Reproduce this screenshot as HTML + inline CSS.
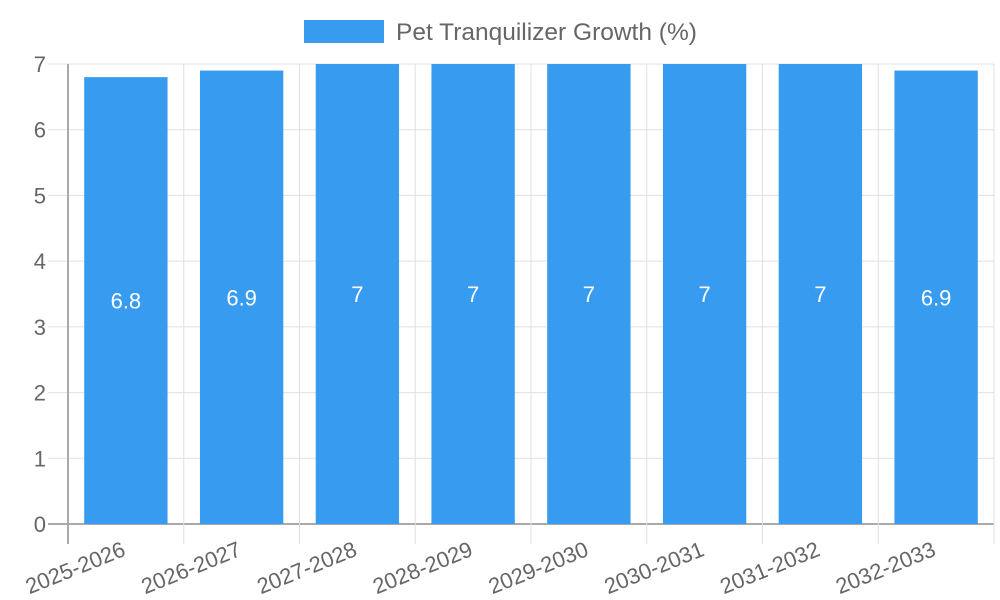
<!DOCTYPE html>
<html><head><meta charset="utf-8"><style>
body{margin:0;background:#fff;}
svg{display:block;font-family:"Liberation Sans",sans-serif;}
</style></head><body>
<svg id="c" width="1000" height="600">
<g>
<rect x="304" y="20" width="80" height="23" fill="#379bf0"/>
<text x="396" y="40" font-size="24.5" fill="#666">Pet Tranquilizer Growth (%)</text>
</g>
</svg>
<script>
const categories=["2025-2026","2026-2027","2027-2028","2028-2029","2029-2030","2030-2031","2031-2032","2032-2033"];
const values=[6.8,6.9,7,7,7,7,7,6.9];
const yTicks=[0,1,2,3,4,5,6,7];
const svg=document.getElementById('c');
const NS='http://www.w3.org/2000/svg';
const L=68,R=994,T=64,B=524,yMax=7;
const bw=(R-L)/categories.length;
const y=v=>B-(v/yMax)*(B-T);
const x=i=>L+i*bw;
function mk(t,a,p){const e=document.createElementNS(NS,t);for(const k in a)e.setAttribute(k,a[k]);(p||svg).appendChild(e);return e;}
yTicks.forEach(v=>{
 const g=mk('line',{x1:48,x2:R,y1:y(v),y2:y(v),stroke:v===0?'#aaa':'#e0e0e0','stroke-width':v===0?2:1});
 
 
 const t=mk('text',{x:46,y:y(v)+8,'text-anchor':'end','font-size':22,fill:'#666'});
 t.textContent=v;
 
 
});
for(let i=0;i<=categories.length;i++){
 const g=mk('line',{x1:x(i),x2:x(i),y1:T,y2:B+20,stroke:i===0?'#aaa':'#e0e0e0','stroke-width':i===0?2:1});
 
 
}
categories.forEach((c,i)=>{
 const cx=x(i)+bw/2, w=bw*0.72;
 const r=mk('rect',{x:cx-w/2,y:y(values[i]),width:w,height:B-y(values[i]),fill:'#379bf0'});
 
 
 const v=mk('text',{x:cx,y:(y(values[i])+B)/2+8,'text-anchor':'middle','font-size':22,fill:'#fff'});
 v.textContent=values[i];
 
 
 const t=mk('text',{x:0,y:0,'text-anchor':'end','font-size':22,fill:'#666',transform:`translate(${cx+1},${B+31}) rotate(-22)`});
 t.textContent=c;
 
 
});
</script>
</body></html>
